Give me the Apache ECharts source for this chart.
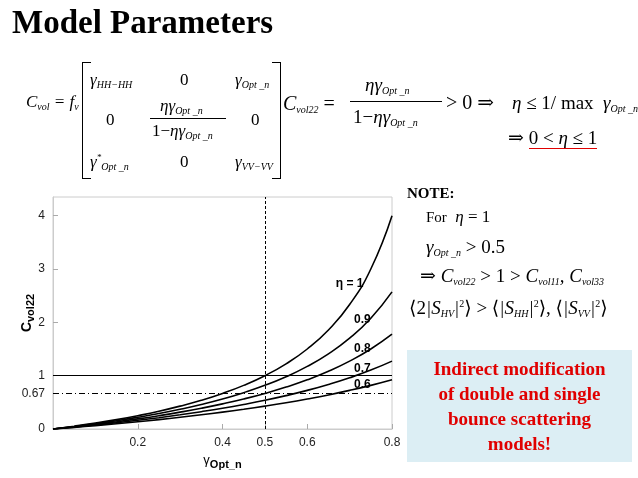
<!DOCTYPE html>
<html><head><meta charset="utf-8">
<script src="https://cdn.jsdelivr.net/npm/echarts@6/dist/echarts.min.js"></script>
<style>
body{margin:0;width:638px;height:478px;background:#fff;position:relative;overflow:hidden;font-family:"Liberation Serif","DejaVu Serif",serif;}
.t{position:absolute;white-space:nowrap;font-style:italic;font-size:17px;}
.n{font-style:normal}
sub{font-size:10px;vertical-align:-3px}
#chart{position:absolute;left:0;top:0;width:638px;height:478px;}
</style></head><body>
<div id="chart"></div>
<div class="t n" style="left:12px;top:4px;font-size:33px;font-weight:bold;font-style:normal">Model Parameters</div>
<div class="t" style="left:26px;top:92px">C<sub>vol</sub> = f<sub>v</sub></div>
<div style="position:absolute;left:82px;top:62px;width:8px;height:115px;border:1px solid #000;border-right:none"></div>
<div style="position:absolute;left:272px;top:62px;width:8px;height:115px;border:1px solid #000;border-left:none"></div>
<div class="t" style="left:90px;top:70px">γ<sub>HH−HH</sub></div>
<div class="t n" style="left:180px;top:70px">0</div>
<div class="t" style="left:235px;top:70px">γ<sub>Opt _n</sub></div>
<div class="t n" style="left:106px;top:110px">0</div>
<div class="t" style="left:160px;top:96px">ηγ<sub>Opt _n</sub></div>
<div style="position:absolute;left:150px;top:118px;width:76px;border-top:1px solid #000"></div>
<div class="t" style="left:152px;top:121px"><span class="n">1−</span>ηγ<sub>Opt _n</sub></div>
<div class="t n" style="left:251px;top:110px">0</div>
<div class="t" style="left:90px;top:152px">γ<sup style="font-size:9px">*</sup><sub>Opt _n</sub></div>
<div class="t n" style="left:180px;top:152px">0</div>
<div class="t" style="left:235px;top:152px">γ<sub>VV−VV</sub></div>
<div class="t" style="left:283px;top:92px;font-size:20px">C<sub>vol22</sub> <span class="n">=</span></div>
<div class="t" style="left:365px;top:74px;font-size:19px">ηγ<sub>Opt _n</sub></div>
<div style="position:absolute;left:350px;top:101px;width:92px;border-top:1px solid #000"></div>
<div class="t" style="left:353px;top:106px;font-size:19px"><span class="n">1−</span>ηγ<sub>Opt _n</sub></div>
<div class="t n" style="left:446px;top:90px;font-size:20px">&gt; 0 ⇒</div>
<div class="t" style="left:512px;top:92px;font-size:19px">η <span class="n">≤ 1/ max</span> &nbsp;γ<sub>Opt _n</sub></div>
<div class="t" style="left:508px;top:126px;font-size:19px"><span class="n">⇒ </span><span style="border-bottom:1.5px solid #e00000"><span class="n">0 &lt; </span>η<span class="n"> ≤ 1</span></span></div>
<div class="t n" style="left:407px;top:185px;font-weight:bold;font-size:15px">NOTE:</div>
<div class="t" style="left:426px;top:207px;font-size:17px"><span class="n" style="font-size:15px">For</span> &nbsp;η <span class="n">= 1</span></div>
<div class="t" style="left:426px;top:236px;font-size:19px">γ<sub>Opt _n</sub> <span class="n">&gt; 0.5</span></div>
<div class="t" style="left:420px;top:264px;font-size:19px"><span class="n">⇒ </span>C<sub>vol22</sub> <span class="n">&gt; 1 &gt; </span>C<sub>vol11</sub>, C<sub>vol33</sub></div>
<div class="t" style="left:409px;top:296px;font-size:19px"><span class="n">⟨2</span>|S<sub>HV</sub>|<sup style="font-size:10px" class="n">2</sup><span class="n">⟩ &gt; ⟨</span>|S<sub>HH</sub>|<sup style="font-size:10px" class="n">2</sup><span class="n">⟩, ⟨</span>|S<sub>VV</sub>|<sup style="font-size:10px" class="n">2</sup><span class="n">⟩</span></div>
<div style="position:absolute;left:407px;top:350px;width:225px;height:112px;background:#dceef4;color:#e00000;font-weight:bold;font-size:19px;line-height:25px;text-align:center;padding-top:6px;box-sizing:border-box">Indirect modification<br>of double and single<br>bounce scattering<br>models!</div>
<script>
const gammaVals=[0,0.05,0.1,0.15,0.2,0.25,0.3,0.35,0.4,0.45,0.5,0.55,0.6,0.65,0.7,0.75,0.8];
const eta10=[0,0.053,0.111,0.176,0.25,0.333,0.429,0.538,0.667,0.818,1,1.222,1.5,1.857,2.333,3,4];
const eta09=[0,0.047,0.099,0.156,0.22,0.29,0.37,0.46,0.5625,0.681,0.818,0.98,1.174,1.41,1.703,2.077,2.571];
const eta08=[0,0.042,0.087,0.136,0.19,0.25,0.316,0.389,0.471,0.5625,0.667,0.786,0.923,1.083,1.273,1.5,1.778];
const eta07=[0,0.036,0.075,0.117,0.163,0.212,0.266,0.325,0.389,0.46,0.538,0.626,0.724,0.835,0.961,1.105,1.273];
const eta06=[0,0.031,0.064,0.099,0.136,0.176,0.22,0.266,0.316,0.37,0.429,0.493,0.563,0.639,0.724,0.818,0.923];
const xTicks=[0.2,0.4,0.5,0.6,0.8];
const yTicks=[0,0.67,1,2,3,4];
const curveLabels=[["η = 1",0.7,2.72],["0.9",0.73,2.05],["0.8",0.73,1.5],["0.7",0.73,1.14],["0.6",0.73,0.84]];
const sets=[eta10,eta09,eta08,eta07,eta06];
const ch=echarts.init(document.getElementById('chart'));
const series=sets.map(s=>({type:'line',data:gammaVals.map((g,i)=>[g,s[i]]),smooth:true,symbol:'none',lineStyle:{color:'#000',width:1.6},silent:true}));
series[0].markLine={symbol:'none',silent:true,label:{show:false},data:[
 {yAxis:1,lineStyle:{type:'solid',color:'#000',width:1}},
 {yAxis:0.67,lineStyle:{type:[6,3,1,3],color:'#000',width:1}},
 {xAxis:0.5,lineStyle:{type:[3,2],color:'#000',width:1}}]};
series[0].markPoint={symbol:'circle',symbolSize:1,itemStyle:{color:'rgba(0,0,0,0)'},silent:true,data:curveLabels.map(c=>({coord:[c[1],c[2]],label:{show:true,position:'inside',formatter:c[0],fontFamily:'Liberation Sans',fontWeight:'bold',fontSize:12,color:'#000'}}))};
ch.setOption({animation:false,
 grid:{left:53,top:197,width:339,height:232,show:true,borderColor:'#ccc',borderWidth:1,outerBoundsMode:'none',containLabel:false},
 graphic:[{type:'text',x:27,y:313,rotation:Math.PI/2,style:{text:'{c|C}{s|vol22}',align:'center',verticalAlign:'middle',rich:{c:{fontSize:14,fill:'#000',fontWeight:'bold',fontFamily:'Liberation Sans'},s:{fontSize:11,fill:'#000',fontWeight:'bold',fontFamily:'Liberation Sans',padding:[8,0,0,0]}}}}],
 xAxis:{type:'value',min:0,max:0.8,axisLine:{lineStyle:{color:'#ccc'}},splitLine:{show:false},
  axisTick:{customValues:xTicks,inside:true,lineStyle:{color:'#aaa'}},
  axisLabel:{customValues:xTicks,color:'#222',fontFamily:'Liberation Sans',fontSize:12},
  name:'{g|γ}{s|Opt_n}',nameLocation:'middle',nameGap:22,nameTextStyle:{color:'#000',rich:{g:{fontSize:13,color:'#000',fontFamily:'Liberation Sans'},s:{fontSize:11,color:'#000',fontWeight:'bold',fontFamily:'Liberation Sans',padding:[8,0,0,0]}}}},
 yAxis:{type:'value',min:0,max:4.35,axisLine:{lineStyle:{color:'#ccc'}},splitLine:{show:false},
  axisTick:{customValues:yTicks,inside:true,lineStyle:{color:'#aaa'}},
  axisLabel:{customValues:yTicks,color:'#222',fontFamily:'Liberation Sans',fontSize:12}},
 series});
</script></body></html>
